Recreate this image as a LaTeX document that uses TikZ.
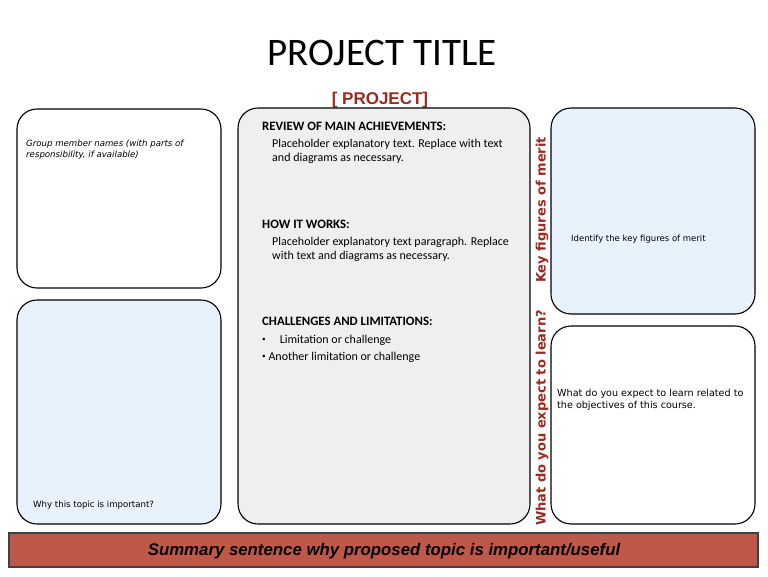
\documentclass[tikz,border=0pt]{standalone}
\usepackage{fontspec}
\setmainfont{Carlito}
\newfontfamily\dvs{DejaVu Sans}
\newfontfamily\libs{Liberation Sans}
\definecolor{lblue}{HTML}{E8F2FD}
\definecolor{lgray}{HTML}{EFEFEF}
\definecolor{dred}{HTML}{9B2A1F}
\definecolor{banner}{HTML}{C0584A}
\begin{document}
\begin{tikzpicture}[x=1pt,y=-1pt,
  panel/.style={draw=black,line width=1.1pt,rounded corners=20pt},
  sidelab/.style={rotate=90,font=\dvs\bfseries\fontsize{13}{15}\selectfont,text=dred},
  body/.style={font=\fontsize{12}{13.5}\selectfont,align=left,anchor=north west,inner sep=0pt},
  head/.style={font=\bfseries\fontsize{12.8}{14}\selectfont,anchor=north west,inner sep=0pt}]
\useasboundingbox (0,0) rectangle (768,576);
\node (title) at (382,53) {\fontsize{39}{42}\selectfont PROJECT TITLE};
\node (proj) at (380,100) {\libs\bfseries\fontsize{17}{19}\selectfont\color{dred}[ PROJECT]};
\draw[panel,fill=white] (17,109) rectangle (221,288);
\draw[panel,fill=lblue] (17,300) rectangle (221,524);
\draw[panel,fill=lgray] (238,108) rectangle (530,524);
\draw[panel,fill=lblue] (551,108) rectangle (755,314);
\draw[panel,fill=white] (551,326) rectangle (755,524);
\draw[draw=black!75,line width=1.2pt,fill=banner] (9,533) rectangle (758,567);
\node (sum) at (384,551) {\libs\bfseries\itshape\fontsize{16.8}{18}\selectfont Summary sentence why proposed topic is important/useful};
\node[body,font=\dvs\itshape\fontsize{8.6}{11}\selectfont] (grp) at (26,140) {Group member names (with parts of\\responsibility, if available)};
\node[body,font=\dvs\fontsize{8.6}{11}\selectfont,anchor=west] (why) at (33,505) {Why this topic is important?};
\node[head] (h1) at (262,122) {REVIEW OF MAIN ACHIEVEMENTS:};
\node[body] (t1) at (272,139) {Placeholder explanatory text. Replace with text\\and diagrams as necessary.};
\node[head] (h2) at (262,220) {HOW IT WORKS:};
\node[body] (t2) at (272,237) {Placeholder explanatory text paragraph. Replace\\with text and diagrams as necessary.};
\node[head] (h3) at (262,317) {CHALLENGES AND LIMITATIONS:};
\node[body] (b1) at (262,335) {\raisebox{2pt}{\scalebox{0.6}{\textbullet}}\hspace{14pt}Limitation or challenge};
\node[body] (b2) at (262,352) {\raisebox{2pt}{\scalebox{0.6}{\textbullet}}\ Another limitation or challenge};
\node[sidelab] (kf) at (542,210) {Key figures of merit};
\node[sidelab] (wl) at (542,418) {What do you expect to learn?};
\node[body,font=\dvs\fontsize{8.5}{10}\selectfont,anchor=west] (id) at (571,239) {Identify the key figures of merit};
\node[body,font=\dvs\fontsize{9.6}{12}\selectfont] (wd) at (557,389) {What do you expect to learn related to\\the objectives of this course.};
\end{tikzpicture}
\end{document}
